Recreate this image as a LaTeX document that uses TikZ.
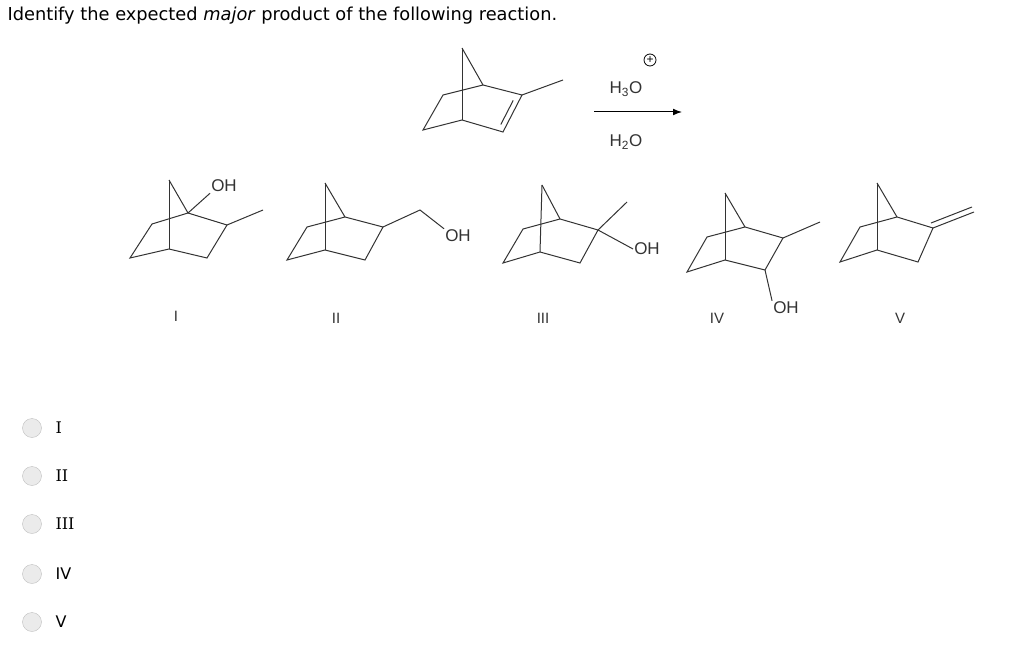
\documentclass[tikz,border=0pt]{standalone}
\usepackage{fontspec}
\setmainfont{DejaVu Sans}
\newfontfamily\chemfont{Liberation Sans}
\newfontfamily\choiceserif{DejaVu Serif}
\usetikzlibrary{arrows.meta, calc}

% skeleton bonds of a norbornane frame with atoms #1-a ... #1-6
\newcommand{\normframe}[1]{%
  \draw[bond] (#1-a) -- (#1-1) -- (#1-2) -- (#1-3) -- (#1-4) -- (#1-5) -- (#1-6) -- (#1-1);
  \draw[bond] (#1-a) -- (#1-4);
}
% place the atoms of a frame
\newcommand{\atoms}[2]{%
  \foreach \n/\px/\py in {#2} {\coordinate (#1-\n) at (\px,\py);}
}

\begin{document}
\begin{tikzpicture}[x=1pt, y=-1pt,
    bond/.style={line width=1pt, black!80},
    chem/.style={font=\chemfont\fontsize{17}{17}\selectfont, text=black!80, inner sep=1pt},
    roman/.style={font=\chemfont\fontsize{15}{15}\selectfont, text=black!80},
    radio/.style={circle, draw=black!25, fill=black!8, minimum size=19pt, inner sep=0pt},
    choice/.style={anchor=west, font=\fontsize{16}{16}\selectfont}]
  \useasboundingbox (0,0) rectangle (1024,660);

  % question
  \node[anchor=west, font=\fontsize{17.8}{18}\selectfont] (title) at (4,16)
    {Identify the expected \textit{major} product of the following reaction.};

  % reactant
  \atoms{r}{a/462/48, 1/483/85, 2/522/95, 3/503/132, 4/462/120, 5/423/130, 6/443/95, m/563/80}
  \normframe{r}
  \draw[bond] (r-2) -- (r-m);
  \draw[bond] ($(r-2)!0.2!(r-3)+(-5,-2)$) -- ($(r-2)!0.85!(r-3)+(-5,-2)$);

  % reagents
  \coordinate (arrowL) at (594,112);
  \coordinate (arrowR) at (682,112);
  \draw[line width=1pt, -{Latex[length=9pt]}] (arrowL) -- (arrowR);
  \node[chem] (hyd) at (626,89) {H\textsubscript{3}O};
  \node[circle, draw, line width=0.8pt, inner sep=0pt, minimum size=12pt, font=\chemfont\fontsize{12}{12}\selectfont] (plus) at (650,60) {+};
  \node[chem] (water) at (626,142) {H\textsubscript{2}O};

  % I
  \atoms{p1}{a/169/180, 1/188/213, 2/227/225, 3/207/258, 4/169/249, 5/130/258, 6/152/224, m/263/210}
  \normframe{p1}
  \draw[bond] (p1-2) -- (p1-m);
  \node[chem] (oh1) at (224,186) {OH};
  \draw[bond] (p1-1) -- (oh1.south west);
  \node[roman] (lab1) at (176,316) {I};

  % II
  \atoms{p2}{a/325/183, 1/345/217, 2/383/227, 3/365/260, 4/325/250, 5/287/260, 6/307/227, c/420/210}
  \normframe{p2}
  \node[chem] (oh2) at (458,236) {OH};
  \draw[bond] (p2-2) -- (p2-c) -- (oh2.north west);
  \node[roman] (lab2) at (336,318) {II};

  % III
  \atoms{p3}{a/542/185, 1/560/219, 2/598/230, 3/580/263, 4/540/252, 5/503/263, 6/523/229, m/627/202}
  \normframe{p3}
  \draw[bond] (p3-2) -- (p3-m);
  \node[chem] (oh3) at (647,249) {OH};
  \draw[bond] (p3-2) -- (oh3.west);
  \node[roman] (lab3) at (543,318) {III};

  % IV
  \atoms{p4}{a/725/193, 1/745/227, 2/783/238, 3/765/270, 4/725/260, 5/687/272, 6/707/237, m/820/222}
  \normframe{p4}
  \draw[bond] (p4-2) -- (p4-m);
  \node[chem] (oh4) at (786,308) {OH};
  \draw[bond] (p4-3) -- (oh4.north west);
  \node[roman] (lab4) at (717,318) {IV};

  % V
  \atoms{p5}{a/877/183, 1/897/217, 2/933/228, 3/918/262, 4/877/250, 5/840/262, 6/860/227, m/974/212}
  \normframe{p5}
  \draw[bond] (p5-2) -- (p5-m);
  \draw[bond] ($(p5-2)+(-2,-5)$) -- ($(p5-m)+(-2,-5)$);
  \node[roman] (lab5) at (900,318) {V};

  % answer choices
  \foreach \i/\txt [count=\k] in {428/\choiceserif I, 476/\choiceserif II, 524/\choiceserif III, 574/IV, 622/V} {
    \node[radio] (rb\k) at (32,\i) {};
    \node[choice] (ch\k) at (52,\i) {\txt};
  }
\end{tikzpicture}
\end{document}
